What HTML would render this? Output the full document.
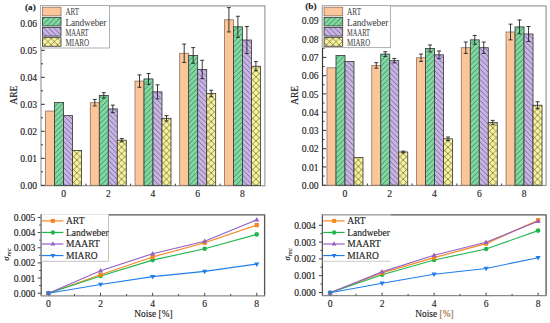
<!DOCTYPE html><html><head><meta charset="utf-8"><style>html,body{margin:0;padding:0;background:#fff;width:550px;height:323px;overflow:hidden}svg{display:block}text{font-family:"Liberation Serif", serif;fill:#222}</style></head><body>
<svg width="550" height="323" viewBox="0 0 550 323">
<defs>
<pattern id="pg" patternUnits="userSpaceOnUse" width="5.2" height="5.2"><rect width="5.2" height="5.2" fill="#7fd9a1"/><path d="M0,5.2 L5.2,0 M-1,1 L1,-1 M4.2,6.2 L6.2,4.2" stroke="#2d5a3a" stroke-width="0.6"/></pattern>
<pattern id="pp" patternUnits="userSpaceOnUse" width="5.2" height="5.2"><rect width="5.2" height="5.2" fill="#c8b5e5"/><path d="M0,0 L5.2,5.2 M-1,4.2 L1,6.2 M4.2,-1 L6.2,1" stroke="#4a3e5e" stroke-width="0.6"/></pattern>
<pattern id="py" patternUnits="userSpaceOnUse" width="6.4" height="6.4"><rect width="6.4" height="6.4" fill="#f7f39b"/><path d="M0,6.4 L6.4,0 M-1,1 L1,-1 M5.4,7.4 L7.4,5.4 M0,0 L6.4,6.4 M-1,5.4 L1,7.4 M5.4,-1 L7.4,1" stroke="#5e5a38" stroke-width="0.65"/></pattern>
</defs>
<rect x="41.0" y="5.9" width="223.90" height="179.80" fill="none" stroke="#9a9a9a" stroke-width="1.2"/>
<line x1="41.0" y1="185.30" x2="44.80" y2="185.30" stroke="#333" stroke-width="1"/>
<text x="37.00" y="188.90" font-size="9.6" text-anchor="end" stroke="#222" stroke-width="0.13">0.00</text>
<line x1="41.0" y1="171.80" x2="43.00" y2="171.80" stroke="#333" stroke-width="1"/>
<line x1="41.0" y1="158.30" x2="44.80" y2="158.30" stroke="#333" stroke-width="1"/>
<text x="37.00" y="161.90" font-size="9.6" text-anchor="end" stroke="#222" stroke-width="0.13">0.01</text>
<line x1="41.0" y1="144.80" x2="43.00" y2="144.80" stroke="#333" stroke-width="1"/>
<line x1="41.0" y1="131.30" x2="44.80" y2="131.30" stroke="#333" stroke-width="1"/>
<text x="37.00" y="134.90" font-size="9.6" text-anchor="end" stroke="#222" stroke-width="0.13">0.02</text>
<line x1="41.0" y1="117.80" x2="43.00" y2="117.80" stroke="#333" stroke-width="1"/>
<line x1="41.0" y1="104.30" x2="44.80" y2="104.30" stroke="#333" stroke-width="1"/>
<text x="37.00" y="107.90" font-size="9.6" text-anchor="end" stroke="#222" stroke-width="0.13">0.03</text>
<line x1="41.0" y1="90.80" x2="43.00" y2="90.80" stroke="#333" stroke-width="1"/>
<line x1="41.0" y1="77.30" x2="44.80" y2="77.30" stroke="#333" stroke-width="1"/>
<text x="37.00" y="80.90" font-size="9.6" text-anchor="end" stroke="#222" stroke-width="0.13">0.04</text>
<line x1="41.0" y1="63.80" x2="43.00" y2="63.80" stroke="#333" stroke-width="1"/>
<line x1="41.0" y1="50.30" x2="44.80" y2="50.30" stroke="#333" stroke-width="1"/>
<text x="37.00" y="53.90" font-size="9.6" text-anchor="end" stroke="#222" stroke-width="0.13">0.05</text>
<line x1="41.0" y1="36.80" x2="43.00" y2="36.80" stroke="#333" stroke-width="1"/>
<line x1="41.0" y1="23.30" x2="44.80" y2="23.30" stroke="#333" stroke-width="1"/>
<text x="37.00" y="26.90" font-size="9.6" text-anchor="end" stroke="#222" stroke-width="0.13">0.06</text>
<line x1="41.0" y1="9.80" x2="43.00" y2="9.80" stroke="#333" stroke-width="1"/>
<line x1="85.95" y1="185.7" x2="85.95" y2="183.70" stroke="#333" stroke-width="1"/>
<line x1="130.65" y1="185.7" x2="130.65" y2="183.70" stroke="#333" stroke-width="1"/>
<line x1="175.35" y1="185.7" x2="175.35" y2="183.70" stroke="#333" stroke-width="1"/>
<line x1="220.05" y1="185.7" x2="220.05" y2="183.70" stroke="#333" stroke-width="1"/>
<text x="63.60" y="197.20" font-size="9.6" text-anchor="middle" stroke="#222" stroke-width="0.13" >0</text>
<text x="108.30" y="197.20" font-size="9.6" text-anchor="middle" stroke="#222" stroke-width="0.13" >2</text>
<text x="153.00" y="197.20" font-size="9.6" text-anchor="middle" stroke="#222" stroke-width="0.13" >4</text>
<text x="197.70" y="197.20" font-size="9.6" text-anchor="middle" stroke="#222" stroke-width="0.13" >6</text>
<text x="242.40" y="197.20" font-size="9.6" text-anchor="middle" stroke="#222" stroke-width="0.13" >8</text>
<rect x="45.60" y="111.05" width="9.00" height="74.25" fill="#fcc69a" stroke="#8a7060" stroke-width="0.8"/>
<rect x="54.60" y="102.41" width="9.00" height="82.89" fill="url(#pg)" stroke="#333" stroke-width="0.8"/>
<rect x="63.60" y="115.64" width="9.00" height="69.66" fill="url(#pp)" stroke="#333" stroke-width="0.8"/>
<rect x="72.60" y="150.47" width="9.00" height="34.83" fill="url(#py)" stroke="#333" stroke-width="0.8"/>
<rect x="90.30" y="102.68" width="9.00" height="82.62" fill="#fcc69a" stroke="#8a7060" stroke-width="0.8"/>
<rect x="99.30" y="95.39" width="9.00" height="89.91" fill="url(#pg)" stroke="#333" stroke-width="0.8"/>
<rect x="108.30" y="108.89" width="9.00" height="76.41" fill="url(#pp)" stroke="#333" stroke-width="0.8"/>
<rect x="117.30" y="140.21" width="9.00" height="45.09" fill="url(#py)" stroke="#333" stroke-width="0.8"/>
<path d="M94.80,99.44V105.92M92.80,99.44H96.80M92.80,105.92H96.80" stroke="#222" stroke-width="0.9" fill="none"/>
<path d="M103.80,92.69V98.09M101.80,92.69H105.80M101.80,98.09H105.80" stroke="#222" stroke-width="0.9" fill="none"/>
<path d="M112.80,105.11V112.67M110.80,105.11H114.80M110.80,112.67H114.80" stroke="#222" stroke-width="0.9" fill="none"/>
<path d="M121.80,138.59V141.83M119.80,138.59H123.80M119.80,141.83H123.80" stroke="#222" stroke-width="0.9" fill="none"/>
<rect x="135.00" y="81.08" width="9.00" height="104.22" fill="#fcc69a" stroke="#8a7060" stroke-width="0.8"/>
<rect x="144.00" y="78.92" width="9.00" height="106.38" fill="url(#pg)" stroke="#333" stroke-width="0.8"/>
<rect x="153.00" y="91.88" width="9.00" height="93.42" fill="url(#pp)" stroke="#333" stroke-width="0.8"/>
<rect x="162.00" y="118.34" width="9.00" height="66.96" fill="url(#py)" stroke="#333" stroke-width="0.8"/>
<path d="M139.50,74.87V87.29M137.50,74.87H141.50M137.50,87.29H141.50" stroke="#222" stroke-width="0.9" fill="none"/>
<path d="M148.50,73.52V84.32M146.50,73.52H150.50M146.50,84.32H150.50" stroke="#222" stroke-width="0.9" fill="none"/>
<path d="M157.50,84.86V98.90M155.50,84.86H159.50M155.50,98.90H159.50" stroke="#222" stroke-width="0.9" fill="none"/>
<path d="M166.50,115.64V121.04M164.50,115.64H168.50M164.50,121.04H168.50" stroke="#222" stroke-width="0.9" fill="none"/>
<rect x="179.70" y="53.27" width="9.00" height="132.03" fill="#fcc69a" stroke="#8a7060" stroke-width="0.8"/>
<rect x="188.70" y="55.43" width="9.00" height="129.87" fill="url(#pg)" stroke="#333" stroke-width="0.8"/>
<rect x="197.70" y="69.47" width="9.00" height="115.83" fill="url(#pp)" stroke="#333" stroke-width="0.8"/>
<rect x="206.70" y="93.50" width="9.00" height="91.80" fill="url(#py)" stroke="#333" stroke-width="0.8"/>
<path d="M184.20,44.09V62.45M182.20,44.09H186.20M182.20,62.45H186.20" stroke="#222" stroke-width="0.9" fill="none"/>
<path d="M193.20,47.60V63.26M191.20,47.60H195.20M191.20,63.26H195.20" stroke="#222" stroke-width="0.9" fill="none"/>
<path d="M202.20,60.29V78.65M200.20,60.29H204.20M200.20,78.65H204.20" stroke="#222" stroke-width="0.9" fill="none"/>
<path d="M211.20,90.26V96.74M209.20,90.26H213.20M209.20,96.74H213.20" stroke="#222" stroke-width="0.9" fill="none"/>
<rect x="224.40" y="19.79" width="9.00" height="165.51" fill="#fcc69a" stroke="#8a7060" stroke-width="0.8"/>
<rect x="233.40" y="26.81" width="9.00" height="158.49" fill="url(#pg)" stroke="#333" stroke-width="0.8"/>
<rect x="242.40" y="40.04" width="9.00" height="145.26" fill="url(#pp)" stroke="#333" stroke-width="0.8"/>
<rect x="251.40" y="66.23" width="9.00" height="119.07" fill="url(#py)" stroke="#333" stroke-width="0.8"/>
<path d="M228.90,7.64V31.94M226.90,7.64H230.90M226.90,31.94H230.90" stroke="#222" stroke-width="0.9" fill="none"/>
<path d="M237.90,16.28V37.34M235.90,16.28H239.90M235.90,37.34H239.90" stroke="#222" stroke-width="0.9" fill="none"/>
<path d="M246.90,26.54V53.54M244.90,26.54H248.90M244.90,53.54H248.90" stroke="#222" stroke-width="0.9" fill="none"/>
<path d="M255.90,61.64V70.82M253.90,61.64H257.90M253.90,70.82H257.90" stroke="#222" stroke-width="0.9" fill="none"/>
<rect x="40.6" y="5.6" width="68.9" height="42.4" fill="#fff" stroke="#a8a8a8" stroke-width="0.9"/>
<rect x="42.4" y="7.20" width="18.6" height="8.6" fill="#fcc69a" stroke="#8a7060" stroke-width="0.8"/>
<text x="65.40" y="14.90" font-size="9.3" textLength="13.6" lengthAdjust="spacingAndGlyphs" style="fill:#3a3a3a">ART</text>
<rect x="42.4" y="17.35" width="18.6" height="8.6" fill="url(#pg)" stroke="#333" stroke-width="0.8"/>
<text x="65.40" y="25.60" font-size="9.3" textLength="40.9" lengthAdjust="spacing" style="fill:#3a3a3a">Landweber</text>
<rect x="42.4" y="27.50" width="18.6" height="8.6" fill="url(#pp)" stroke="#333" stroke-width="0.8"/>
<text x="65.40" y="35.80" font-size="9.3" textLength="23.2" lengthAdjust="spacingAndGlyphs" style="fill:#3a3a3a">MAART</text>
<rect x="42.4" y="37.65" width="18.6" height="8.6" fill="url(#py)" stroke="#333" stroke-width="0.8"/>
<text x="65.40" y="46.00" font-size="9.3" textLength="23.9" lengthAdjust="spacingAndGlyphs" style="fill:#3a3a3a">MIARO</text>
<text x="25.00" y="10.30" font-size="9.2" text-anchor="start" stroke="#222" stroke-width="0.13" font-weight="bold">(a)</text>
<text x="0" y="0" font-size="9.4" text-anchor="middle" stroke="#222" stroke-width="0.13" transform="translate(16.6,95.2) rotate(-90)">ARE</text>
<rect x="322.5" y="5.9" width="223.60" height="179.60" fill="none" stroke="#9a9a9a" stroke-width="1.2"/>
<line x1="322.5" y1="5.9" x2="322.5" y2="185.5" stroke="#3a3a3a" stroke-width="1.1"/>
<line x1="322.5" y1="185.20" x2="326.30" y2="185.20" stroke="#333" stroke-width="1"/>
<text x="318.60" y="188.80" font-size="9.6" text-anchor="end" stroke="#222" stroke-width="0.13">0.00</text>
<line x1="322.5" y1="176.07" x2="324.50" y2="176.07" stroke="#333" stroke-width="1"/>
<line x1="322.5" y1="166.94" x2="326.30" y2="166.94" stroke="#333" stroke-width="1"/>
<text x="318.60" y="170.54" font-size="9.6" text-anchor="end" stroke="#222" stroke-width="0.13">0.01</text>
<line x1="322.5" y1="157.81" x2="324.50" y2="157.81" stroke="#333" stroke-width="1"/>
<line x1="322.5" y1="148.68" x2="326.30" y2="148.68" stroke="#333" stroke-width="1"/>
<text x="318.60" y="152.28" font-size="9.6" text-anchor="end" stroke="#222" stroke-width="0.13">0.02</text>
<line x1="322.5" y1="139.55" x2="324.50" y2="139.55" stroke="#333" stroke-width="1"/>
<line x1="322.5" y1="130.42" x2="326.30" y2="130.42" stroke="#333" stroke-width="1"/>
<text x="318.60" y="134.02" font-size="9.6" text-anchor="end" stroke="#222" stroke-width="0.13">0.03</text>
<line x1="322.5" y1="121.29" x2="324.50" y2="121.29" stroke="#333" stroke-width="1"/>
<line x1="322.5" y1="112.16" x2="326.30" y2="112.16" stroke="#333" stroke-width="1"/>
<text x="318.60" y="115.76" font-size="9.6" text-anchor="end" stroke="#222" stroke-width="0.13">0.04</text>
<line x1="322.5" y1="103.03" x2="324.50" y2="103.03" stroke="#333" stroke-width="1"/>
<line x1="322.5" y1="93.90" x2="326.30" y2="93.90" stroke="#333" stroke-width="1"/>
<text x="318.60" y="97.50" font-size="9.6" text-anchor="end" stroke="#222" stroke-width="0.13">0.05</text>
<line x1="322.5" y1="84.77" x2="324.50" y2="84.77" stroke="#333" stroke-width="1"/>
<line x1="322.5" y1="75.64" x2="326.30" y2="75.64" stroke="#333" stroke-width="1"/>
<text x="318.60" y="79.24" font-size="9.6" text-anchor="end" stroke="#222" stroke-width="0.13">0.06</text>
<line x1="322.5" y1="66.51" x2="324.50" y2="66.51" stroke="#333" stroke-width="1"/>
<line x1="322.5" y1="57.38" x2="326.30" y2="57.38" stroke="#333" stroke-width="1"/>
<text x="318.60" y="60.98" font-size="9.6" text-anchor="end" stroke="#222" stroke-width="0.13">0.07</text>
<line x1="322.5" y1="48.25" x2="324.50" y2="48.25" stroke="#333" stroke-width="1"/>
<line x1="322.5" y1="39.12" x2="326.30" y2="39.12" stroke="#333" stroke-width="1"/>
<text x="318.60" y="42.72" font-size="9.6" text-anchor="end" stroke="#222" stroke-width="0.13">0.08</text>
<line x1="322.5" y1="29.99" x2="324.50" y2="29.99" stroke="#333" stroke-width="1"/>
<line x1="322.5" y1="20.86" x2="326.30" y2="20.86" stroke="#333" stroke-width="1"/>
<text x="318.60" y="24.46" font-size="9.6" text-anchor="end" stroke="#222" stroke-width="0.13">0.09</text>
<line x1="322.5" y1="11.73" x2="324.50" y2="11.73" stroke="#333" stroke-width="1"/>
<line x1="367.38" y1="185.5" x2="367.38" y2="183.50" stroke="#333" stroke-width="1"/>
<line x1="412.14" y1="185.5" x2="412.14" y2="183.50" stroke="#333" stroke-width="1"/>
<line x1="456.90" y1="185.5" x2="456.90" y2="183.50" stroke="#333" stroke-width="1"/>
<line x1="501.66" y1="185.5" x2="501.66" y2="183.50" stroke="#333" stroke-width="1"/>
<text x="345.00" y="197.00" font-size="9.6" text-anchor="middle" stroke="#222" stroke-width="0.13" >0</text>
<text x="389.76" y="197.00" font-size="9.6" text-anchor="middle" stroke="#222" stroke-width="0.13" >2</text>
<text x="434.52" y="197.00" font-size="9.6" text-anchor="middle" stroke="#222" stroke-width="0.13" >4</text>
<text x="479.28" y="197.00" font-size="9.6" text-anchor="middle" stroke="#222" stroke-width="0.13" >6</text>
<text x="524.04" y="197.00" font-size="9.6" text-anchor="middle" stroke="#222" stroke-width="0.13" >8</text>
<rect x="327.00" y="67.79" width="9.00" height="117.41" fill="#fcc69a" stroke="#8a7060" stroke-width="0.8"/>
<rect x="336.00" y="55.55" width="9.00" height="129.65" fill="url(#pg)" stroke="#333" stroke-width="0.8"/>
<rect x="345.00" y="61.58" width="9.00" height="123.62" fill="url(#pp)" stroke="#333" stroke-width="0.8"/>
<rect x="354.00" y="157.44" width="9.00" height="27.76" fill="url(#py)" stroke="#333" stroke-width="0.8"/>
<rect x="371.76" y="65.41" width="9.00" height="119.79" fill="#fcc69a" stroke="#8a7060" stroke-width="0.8"/>
<rect x="380.76" y="54.09" width="9.00" height="131.11" fill="url(#pg)" stroke="#333" stroke-width="0.8"/>
<rect x="389.76" y="60.67" width="9.00" height="124.53" fill="url(#pp)" stroke="#333" stroke-width="0.8"/>
<rect x="398.76" y="151.97" width="9.00" height="33.23" fill="url(#py)" stroke="#333" stroke-width="0.8"/>
<path d="M376.26,62.68V68.15M374.26,62.68H378.26M374.26,68.15H378.26" stroke="#222" stroke-width="0.9" fill="none"/>
<path d="M385.26,51.72V56.47M383.26,51.72H387.26M383.26,56.47H387.26" stroke="#222" stroke-width="0.9" fill="none"/>
<path d="M394.26,58.48V62.86M392.26,58.48H396.26M392.26,62.86H396.26" stroke="#222" stroke-width="0.9" fill="none"/>
<path d="M403.26,151.05V152.88M401.26,151.05H405.26M401.26,152.88H405.26" stroke="#222" stroke-width="0.9" fill="none"/>
<rect x="416.52" y="57.75" width="9.00" height="127.45" fill="#fcc69a" stroke="#8a7060" stroke-width="0.8"/>
<rect x="425.52" y="48.43" width="9.00" height="136.77" fill="url(#pg)" stroke="#333" stroke-width="0.8"/>
<rect x="434.52" y="54.82" width="9.00" height="130.38" fill="url(#pp)" stroke="#333" stroke-width="0.8"/>
<rect x="443.52" y="138.82" width="9.00" height="46.38" fill="url(#py)" stroke="#333" stroke-width="0.8"/>
<path d="M421.02,54.09V61.40M419.02,54.09H423.02M419.02,61.40H423.02" stroke="#222" stroke-width="0.9" fill="none"/>
<path d="M430.02,44.96V51.90M428.02,44.96H432.02M428.02,51.90H432.02" stroke="#222" stroke-width="0.9" fill="none"/>
<path d="M439.02,50.99V58.66M437.02,50.99H441.02M437.02,58.66H441.02" stroke="#222" stroke-width="0.9" fill="none"/>
<path d="M448.02,136.99V140.65M446.02,136.99H450.02M446.02,140.65H450.02" stroke="#222" stroke-width="0.9" fill="none"/>
<rect x="461.28" y="47.70" width="9.00" height="137.50" fill="#fcc69a" stroke="#8a7060" stroke-width="0.8"/>
<rect x="470.28" y="39.85" width="9.00" height="145.35" fill="url(#pg)" stroke="#333" stroke-width="0.8"/>
<rect x="479.28" y="47.70" width="9.00" height="137.50" fill="url(#pp)" stroke="#333" stroke-width="0.8"/>
<rect x="488.28" y="122.57" width="9.00" height="62.63" fill="url(#py)" stroke="#333" stroke-width="0.8"/>
<path d="M465.78,42.04V53.36M463.78,42.04H467.78M463.78,53.36H467.78" stroke="#222" stroke-width="0.9" fill="none"/>
<path d="M474.78,35.47V44.23M472.78,35.47H476.78M472.78,44.23H476.78" stroke="#222" stroke-width="0.9" fill="none"/>
<path d="M483.78,42.04V53.36M481.78,42.04H485.78M481.78,53.36H485.78" stroke="#222" stroke-width="0.9" fill="none"/>
<path d="M492.78,120.38V124.76M490.78,120.38H494.78M490.78,124.76H494.78" stroke="#222" stroke-width="0.9" fill="none"/>
<rect x="506.04" y="32.00" width="9.00" height="153.20" fill="#fcc69a" stroke="#8a7060" stroke-width="0.8"/>
<rect x="515.04" y="26.89" width="9.00" height="158.31" fill="url(#pg)" stroke="#333" stroke-width="0.8"/>
<rect x="524.04" y="34.01" width="9.00" height="151.19" fill="url(#pp)" stroke="#333" stroke-width="0.8"/>
<rect x="533.04" y="105.22" width="9.00" height="79.98" fill="url(#py)" stroke="#333" stroke-width="0.8"/>
<path d="M510.54,24.15V39.85M508.54,24.15H512.54M508.54,39.85H512.54" stroke="#222" stroke-width="0.9" fill="none"/>
<path d="M519.54,19.95V33.82M517.54,19.95H521.54M517.54,33.82H521.54" stroke="#222" stroke-width="0.9" fill="none"/>
<path d="M528.54,26.52V41.49M526.54,26.52H530.54M526.54,41.49H530.54" stroke="#222" stroke-width="0.9" fill="none"/>
<path d="M537.54,101.75V108.69M535.54,101.75H539.54M535.54,108.69H539.54" stroke="#222" stroke-width="0.9" fill="none"/>
<rect x="322.3" y="5.6" width="68.09999999999997" height="42.0" fill="#fff" stroke="#a8a8a8" stroke-width="0.9"/>
<rect x="324.1" y="7.20" width="18.6" height="8.6" fill="#fcc69a" stroke="#8a7060" stroke-width="0.8"/>
<text x="347.10" y="14.90" font-size="9.3" textLength="14.0" lengthAdjust="spacingAndGlyphs" style="fill:#3a3a3a">ART</text>
<rect x="324.1" y="17.35" width="18.6" height="8.6" fill="url(#pg)" stroke="#333" stroke-width="0.8"/>
<text x="347.10" y="25.60" font-size="9.3" textLength="41.2" lengthAdjust="spacing" style="fill:#3a3a3a">Landweber</text>
<rect x="324.1" y="27.50" width="18.6" height="8.6" fill="url(#pp)" stroke="#333" stroke-width="0.8"/>
<text x="347.10" y="35.80" font-size="9.3" textLength="22.9" lengthAdjust="spacingAndGlyphs" style="fill:#3a3a3a">MAART</text>
<rect x="324.1" y="37.65" width="18.6" height="8.6" fill="url(#py)" stroke="#333" stroke-width="0.8"/>
<text x="347.10" y="46.00" font-size="9.3" textLength="23.1" lengthAdjust="spacingAndGlyphs" style="fill:#3a3a3a">MIARO</text>
<text x="305.30" y="8.90" font-size="9.2" text-anchor="start" stroke="#222" stroke-width="0.13" font-weight="bold">(b)</text>
<text x="0" y="0" font-size="9.4" text-anchor="middle" stroke="#222" stroke-width="0.13" transform="translate(298.4,95.4) rotate(-90)">ARE</text>
<path d="M41.2,295.8 V214.9 H264.6 V295.8" fill="none" stroke="#555" stroke-width="1.3"/>
<line x1="40.6" y1="295.8" x2="265.20000000000005" y2="295.8" stroke="#8a8a8a" stroke-width="1.3"/>
<line x1="37.7" y1="293.20" x2="41.2" y2="293.20" stroke="#444" stroke-width="1"/>
<text x="35.40" y="296.70" font-size="9.6" text-anchor="end" stroke="#222" stroke-width="0.13">0.000</text>
<line x1="39.2" y1="285.62" x2="41.2" y2="285.62" stroke="#444" stroke-width="1"/>
<line x1="37.7" y1="278.05" x2="41.2" y2="278.05" stroke="#444" stroke-width="1"/>
<text x="35.40" y="281.55" font-size="9.6" text-anchor="end" stroke="#222" stroke-width="0.13">0.001</text>
<line x1="39.2" y1="270.47" x2="41.2" y2="270.47" stroke="#444" stroke-width="1"/>
<line x1="37.7" y1="262.90" x2="41.2" y2="262.90" stroke="#444" stroke-width="1"/>
<text x="35.40" y="266.40" font-size="9.6" text-anchor="end" stroke="#222" stroke-width="0.13">0.002</text>
<line x1="39.2" y1="255.32" x2="41.2" y2="255.32" stroke="#444" stroke-width="1"/>
<line x1="37.7" y1="247.75" x2="41.2" y2="247.75" stroke="#444" stroke-width="1"/>
<text x="35.40" y="251.25" font-size="9.6" text-anchor="end" stroke="#222" stroke-width="0.13">0.003</text>
<line x1="39.2" y1="240.17" x2="41.2" y2="240.17" stroke="#444" stroke-width="1"/>
<line x1="37.7" y1="232.60" x2="41.2" y2="232.60" stroke="#444" stroke-width="1"/>
<text x="35.40" y="236.10" font-size="9.6" text-anchor="end" stroke="#222" stroke-width="0.13">0.004</text>
<line x1="39.2" y1="225.02" x2="41.2" y2="225.02" stroke="#444" stroke-width="1"/>
<line x1="37.7" y1="217.45" x2="41.2" y2="217.45" stroke="#444" stroke-width="1"/>
<text x="35.40" y="220.95" font-size="9.6" text-anchor="end" stroke="#222" stroke-width="0.13">0.005</text>
<line x1="48.50" y1="295.8" x2="48.50" y2="292.80" stroke="#444" stroke-width="1"/>
<line x1="74.53" y1="295.8" x2="74.53" y2="294.00" stroke="#444" stroke-width="1"/>
<line x1="100.56" y1="295.8" x2="100.56" y2="292.80" stroke="#444" stroke-width="1"/>
<line x1="126.59" y1="295.8" x2="126.59" y2="294.00" stroke="#444" stroke-width="1"/>
<line x1="152.62" y1="295.8" x2="152.62" y2="292.80" stroke="#444" stroke-width="1"/>
<line x1="178.65" y1="295.8" x2="178.65" y2="294.00" stroke="#444" stroke-width="1"/>
<line x1="204.68" y1="295.8" x2="204.68" y2="292.80" stroke="#444" stroke-width="1"/>
<line x1="230.71" y1="295.8" x2="230.71" y2="294.00" stroke="#444" stroke-width="1"/>
<line x1="256.74" y1="295.8" x2="256.74" y2="292.80" stroke="#444" stroke-width="1"/>
<text x="48.50" y="307.00" font-size="9.6" text-anchor="middle" stroke="#222" stroke-width="0.13" >0</text>
<text x="100.56" y="307.00" font-size="9.6" text-anchor="middle" stroke="#222" stroke-width="0.13" >2</text>
<text x="152.62" y="307.00" font-size="9.6" text-anchor="middle" stroke="#222" stroke-width="0.13" >4</text>
<text x="204.68" y="307.00" font-size="9.6" text-anchor="middle" stroke="#222" stroke-width="0.13" >6</text>
<text x="256.74" y="307.00" font-size="9.6" text-anchor="middle" stroke="#222" stroke-width="0.13" >8</text>
<polyline points="48.50,293.20 100.56,274.80 152.62,257.00 204.68,242.80 256.74,225.10" fill="none" stroke="#f7861f" stroke-width="1.15"/>
<polyline points="48.50,293.20 100.56,276.00 152.62,260.10 204.68,248.70 256.74,234.40" fill="none" stroke="#20b64c" stroke-width="1.15"/>
<polyline points="48.50,293.20 100.56,270.80 152.62,253.70 204.68,241.20 256.74,219.90" fill="none" stroke="#9561c4" stroke-width="1.15"/>
<polyline points="48.50,293.20 100.56,284.50 152.62,276.60 204.68,271.40 256.74,264.10" fill="none" stroke="#1f7fe8" stroke-width="1.15"/>
<circle cx="48.50" cy="293.20" r="2.30" fill="#20b64c"/>
<circle cx="100.56" cy="276.00" r="2.30" fill="#20b64c"/>
<circle cx="152.62" cy="260.10" r="2.30" fill="#20b64c"/>
<circle cx="204.68" cy="248.70" r="2.30" fill="#20b64c"/>
<circle cx="256.74" cy="234.40" r="2.30" fill="#20b64c"/>
<rect x="46.40" y="291.10" width="4.20" height="4.20" fill="#f7861f"/>
<rect x="98.46" y="272.70" width="4.20" height="4.20" fill="#f7861f"/>
<rect x="150.52" y="254.90" width="4.20" height="4.20" fill="#f7861f"/>
<rect x="202.58" y="240.70" width="4.20" height="4.20" fill="#f7861f"/>
<rect x="254.64" y="223.00" width="4.20" height="4.20" fill="#f7861f"/>
<path d="M48.50,290.40L51.10,294.90L45.90,294.90Z" fill="#9561c4"/>
<path d="M100.56,268.00L103.16,272.50L97.96,272.50Z" fill="#9561c4"/>
<path d="M152.62,250.90L155.22,255.40L150.02,255.40Z" fill="#9561c4"/>
<path d="M204.68,238.40L207.28,242.90L202.08,242.90Z" fill="#9561c4"/>
<path d="M256.74,217.10L259.34,221.60L254.14,221.60Z" fill="#9561c4"/>
<path d="M48.50,296.00L51.10,291.50L45.90,291.50Z" fill="#1f7fe8"/>
<path d="M100.56,287.30L103.16,282.80L97.96,282.80Z" fill="#1f7fe8"/>
<path d="M152.62,279.40L155.22,274.90L150.02,274.90Z" fill="#1f7fe8"/>
<path d="M204.68,274.20L207.28,269.70L202.08,269.70Z" fill="#1f7fe8"/>
<path d="M256.74,266.90L259.34,262.40L254.14,262.40Z" fill="#1f7fe8"/>
<rect x="41.800000000000004" y="214.20000000000002" width="66.70" height="47.10" fill="#fff"/>
<line x1="41.2" y1="213.9" x2="41.2" y2="261.3" stroke="#999" stroke-width="1.1"/>
<path d="M41.2,261.3 H108.5 V214.3" fill="none" stroke="#c4c4c4" stroke-width="1"/>
<line x1="42.00" y1="220.90" x2="63.40" y2="220.90" stroke="#f7861f" stroke-width="1.2"/>
<rect x="50.91" y="218.91" width="3.99" height="3.99" fill="#f7861f"/>
<text x="66.00" y="224.30" font-size="9.5" text-anchor="start" stroke="#222" stroke-width="0.13" >ART</text>
<line x1="42.00" y1="232.45" x2="63.40" y2="232.45" stroke="#20b64c" stroke-width="1.2"/>
<circle cx="52.90" cy="232.45" r="2.18" fill="#20b64c"/>
<text x="66.00" y="235.85" font-size="9.5" text-anchor="start" stroke="#222" stroke-width="0.13" >Landweber</text>
<line x1="42.00" y1="244.00" x2="63.40" y2="244.00" stroke="#9561c4" stroke-width="1.2"/>
<path d="M52.90,241.34L55.37,245.62L50.43,245.62Z" fill="#9561c4"/>
<text x="66.00" y="247.40" font-size="9.5" text-anchor="start" stroke="#222" stroke-width="0.13" >MAART</text>
<line x1="42.00" y1="255.55" x2="63.40" y2="255.55" stroke="#1f7fe8" stroke-width="1.2"/>
<path d="M52.90,258.21L55.37,253.94L50.43,253.94Z" fill="#1f7fe8"/>
<text x="66.00" y="258.95" font-size="9.5" text-anchor="start" stroke="#222" stroke-width="0.13" >MIARO</text>
<text x="0" y="0" font-size="8.2" stroke="#222" stroke-width="0.13" transform="translate(8.6,260.8) rotate(-90)"><tspan font-style="italic">σ</tspan><tspan font-size="6.6" dy="2.3" dx="0.3" font-style="italic">rec</tspan></text>
<text x="134.3" y="317.1" font-size="9.4" text-anchor="start" stroke="#222" stroke-width="0.13">Noise <tspan fill="#222" stroke="#222">[%]</tspan></text>
<path d="M322.4,295.6 V214.9 H546.1 V295.6" fill="none" stroke="#555" stroke-width="1.3"/>
<line x1="321.79999999999995" y1="295.6" x2="546.7" y2="295.6" stroke="#8a8a8a" stroke-width="1.3"/>
<line x1="318.9" y1="292.50" x2="322.4" y2="292.50" stroke="#444" stroke-width="1"/>
<text x="315.90" y="296.00" font-size="9.6" text-anchor="end" stroke="#222" stroke-width="0.13">0.000</text>
<line x1="320.4" y1="284.10" x2="322.4" y2="284.10" stroke="#444" stroke-width="1"/>
<line x1="318.9" y1="275.70" x2="322.4" y2="275.70" stroke="#444" stroke-width="1"/>
<text x="315.90" y="279.20" font-size="9.6" text-anchor="end" stroke="#222" stroke-width="0.13">0.001</text>
<line x1="320.4" y1="267.30" x2="322.4" y2="267.30" stroke="#444" stroke-width="1"/>
<line x1="318.9" y1="258.90" x2="322.4" y2="258.90" stroke="#444" stroke-width="1"/>
<text x="315.90" y="262.40" font-size="9.6" text-anchor="end" stroke="#222" stroke-width="0.13">0.002</text>
<line x1="320.4" y1="250.50" x2="322.4" y2="250.50" stroke="#444" stroke-width="1"/>
<line x1="318.9" y1="242.10" x2="322.4" y2="242.10" stroke="#444" stroke-width="1"/>
<text x="315.90" y="245.60" font-size="9.6" text-anchor="end" stroke="#222" stroke-width="0.13">0.003</text>
<line x1="320.4" y1="233.70" x2="322.4" y2="233.70" stroke="#444" stroke-width="1"/>
<line x1="318.9" y1="225.30" x2="322.4" y2="225.30" stroke="#444" stroke-width="1"/>
<text x="315.90" y="228.80" font-size="9.6" text-anchor="end" stroke="#222" stroke-width="0.13">0.004</text>
<line x1="330.10" y1="295.6" x2="330.10" y2="292.60" stroke="#444" stroke-width="1"/>
<line x1="356.10" y1="295.6" x2="356.10" y2="293.80" stroke="#444" stroke-width="1"/>
<line x1="382.10" y1="295.6" x2="382.10" y2="292.60" stroke="#444" stroke-width="1"/>
<line x1="408.10" y1="295.6" x2="408.10" y2="293.80" stroke="#444" stroke-width="1"/>
<line x1="434.10" y1="295.6" x2="434.10" y2="292.60" stroke="#444" stroke-width="1"/>
<line x1="460.10" y1="295.6" x2="460.10" y2="293.80" stroke="#444" stroke-width="1"/>
<line x1="486.10" y1="295.6" x2="486.10" y2="292.60" stroke="#444" stroke-width="1"/>
<line x1="512.10" y1="295.6" x2="512.10" y2="293.80" stroke="#444" stroke-width="1"/>
<line x1="538.10" y1="295.6" x2="538.10" y2="292.60" stroke="#444" stroke-width="1"/>
<text x="330.10" y="306.80" font-size="9.6" text-anchor="middle" stroke="#222" stroke-width="0.13" >0</text>
<text x="382.10" y="306.80" font-size="9.6" text-anchor="middle" stroke="#222" stroke-width="0.13" >2</text>
<text x="434.10" y="306.80" font-size="9.6" text-anchor="middle" stroke="#222" stroke-width="0.13" >4</text>
<text x="486.10" y="306.80" font-size="9.6" text-anchor="middle" stroke="#222" stroke-width="0.13" >6</text>
<text x="538.10" y="306.80" font-size="9.6" text-anchor="middle" stroke="#222" stroke-width="0.13" >8</text>
<polyline points="330.10,292.80 382.10,273.00 434.10,257.60 486.10,243.60 538.10,220.20" fill="none" stroke="#f7861f" stroke-width="1.15"/>
<polyline points="330.10,292.80 382.10,274.70 434.10,260.00 486.10,249.00 538.10,230.60" fill="none" stroke="#20b64c" stroke-width="1.15"/>
<polyline points="330.10,292.80 382.10,271.90 434.10,255.20 486.10,242.30 538.10,221.30" fill="none" stroke="#9561c4" stroke-width="1.15"/>
<polyline points="330.10,292.80 382.10,283.20 434.10,274.30 486.10,268.50 538.10,257.70" fill="none" stroke="#1f7fe8" stroke-width="1.15"/>
<circle cx="330.10" cy="292.80" r="2.30" fill="#20b64c"/>
<circle cx="382.10" cy="274.70" r="2.30" fill="#20b64c"/>
<circle cx="434.10" cy="260.00" r="2.30" fill="#20b64c"/>
<circle cx="486.10" cy="249.00" r="2.30" fill="#20b64c"/>
<circle cx="538.10" cy="230.60" r="2.30" fill="#20b64c"/>
<rect x="328.00" y="290.70" width="4.20" height="4.20" fill="#f7861f"/>
<rect x="380.00" y="270.90" width="4.20" height="4.20" fill="#f7861f"/>
<rect x="432.00" y="255.50" width="4.20" height="4.20" fill="#f7861f"/>
<rect x="484.00" y="241.50" width="4.20" height="4.20" fill="#f7861f"/>
<rect x="536.00" y="218.10" width="4.20" height="4.20" fill="#f7861f"/>
<path d="M330.10,290.00L332.70,294.50L327.50,294.50Z" fill="#9561c4"/>
<path d="M382.10,269.10L384.70,273.60L379.50,273.60Z" fill="#9561c4"/>
<path d="M434.10,252.40L436.70,256.90L431.50,256.90Z" fill="#9561c4"/>
<path d="M486.10,239.50L488.70,244.00L483.50,244.00Z" fill="#9561c4"/>
<path d="M538.10,218.50L540.70,223.00L535.50,223.00Z" fill="#9561c4"/>
<path d="M330.10,295.60L332.70,291.10L327.50,291.10Z" fill="#1f7fe8"/>
<path d="M382.10,286.00L384.70,281.50L379.50,281.50Z" fill="#1f7fe8"/>
<path d="M434.10,277.10L436.70,272.60L431.50,272.60Z" fill="#1f7fe8"/>
<path d="M486.10,271.30L488.70,266.80L483.50,266.80Z" fill="#1f7fe8"/>
<path d="M538.10,260.50L540.70,256.00L535.50,256.00Z" fill="#1f7fe8"/>
<rect x="323.0" y="214.20000000000002" width="67.40" height="47.10" fill="#fff"/>
<line x1="322.4" y1="214.9" x2="390.4" y2="214.9" stroke="#999" stroke-width="1.1"/>
<line x1="322.4" y1="261.3" x2="390.4" y2="261.3" stroke="#ccc" stroke-width="1"/>
<line x1="323.20" y1="220.90" x2="344.60" y2="220.90" stroke="#f7861f" stroke-width="1.2"/>
<rect x="332.10" y="218.91" width="3.99" height="3.99" fill="#f7861f"/>
<text x="347.20" y="224.30" font-size="9.5" text-anchor="start" stroke="#222" stroke-width="0.13" >ART</text>
<line x1="323.20" y1="232.45" x2="344.60" y2="232.45" stroke="#20b64c" stroke-width="1.2"/>
<circle cx="334.10" cy="232.45" r="2.18" fill="#20b64c"/>
<text x="347.20" y="235.85" font-size="9.5" text-anchor="start" stroke="#222" stroke-width="0.13" >Landweber</text>
<line x1="323.20" y1="244.00" x2="344.60" y2="244.00" stroke="#9561c4" stroke-width="1.2"/>
<path d="M334.10,241.34L336.57,245.62L331.63,245.62Z" fill="#9561c4"/>
<text x="347.20" y="247.40" font-size="9.5" text-anchor="start" stroke="#222" stroke-width="0.13" >MAART</text>
<line x1="323.20" y1="255.55" x2="344.60" y2="255.55" stroke="#1f7fe8" stroke-width="1.2"/>
<path d="M334.10,258.21L336.57,253.94L331.63,253.94Z" fill="#1f7fe8"/>
<text x="347.20" y="258.95" font-size="9.5" text-anchor="start" stroke="#222" stroke-width="0.13" >MIARO</text>
<text x="0" y="0" font-size="8.2" stroke="#222" stroke-width="0.13" transform="translate(289.6,260.6) rotate(-90)"><tspan font-style="italic">σ</tspan><tspan font-size="6.6" dy="2.3" dx="0.3" font-style="italic">rec</tspan></text>
<text x="415.3" y="317.1" font-size="9.4" text-anchor="start" stroke="#222" stroke-width="0.13">Noise <tspan fill="#9a6a3a" stroke="#9a6a3a">[%]</tspan></text>
</svg></body></html>
